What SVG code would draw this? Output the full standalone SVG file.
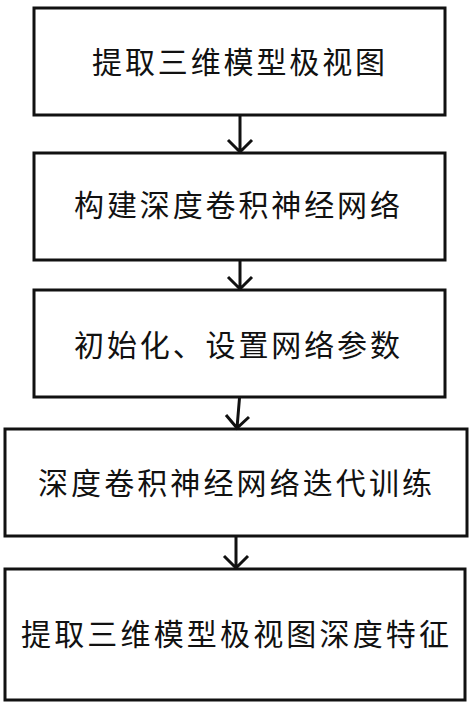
<svg xmlns="http://www.w3.org/2000/svg" width="474" height="706" viewBox="0 0 474 706">
<style>
.box{fill:#fff;stroke:#111;stroke-width:3}
.lbl{font-family:"Noto Sans CJK SC","Noto Sans CJK JP",sans-serif;font-size:30px;fill:#111;dominant-baseline:central}
.conn{stroke:#111;stroke-width:3;fill:none}
</style>
<rect width="474" height="706" fill="#fff"/>
<g id="n1"><rect class="box" x="34" y="8" width="411" height="107"/><text class="lbl" x="92" y="60" textLength="293" lengthAdjust="spacing">提取三维模型极视图</text></g>
<g id="n2"><rect class="box" x="34" y="153" width="411" height="107"/><text class="lbl" x="74" y="203" textLength="326" lengthAdjust="spacing">构建深度卷积神经网络</text></g>
<g id="n3"><rect class="box" x="34" y="290" width="411" height="107"/><text class="lbl" x="74" y="343" textLength="326" lengthAdjust="spacing">初始化、设置网络参数</text></g>
<g id="n4"><rect class="box" x="5" y="429" width="462" height="107"/><text class="lbl" x="38" y="481" textLength="394" lengthAdjust="spacing">深度卷积神经网络迭代训练</text></g>
<g id="n5"><rect class="box" x="5" y="569" width="460" height="131"/><text class="lbl" x="21" y="632" textLength="428" lengthAdjust="spacing">提取三维模型极视图深度特征</text></g>
<g id="connectors">
<path class="conn" d="M240 116 V152 M228 140 L240 152 L252 140"/>
<path class="conn" d="M240 261 V289 M228 277 L240 289 L252 277"/>
<path class="conn" d="M239.5 398 L237 428 M226 415 L237 428 L249 417"/>
<path class="conn" d="M236 537 V568 M224 556 L236 568 L248 556"/>
</g>
</svg>
